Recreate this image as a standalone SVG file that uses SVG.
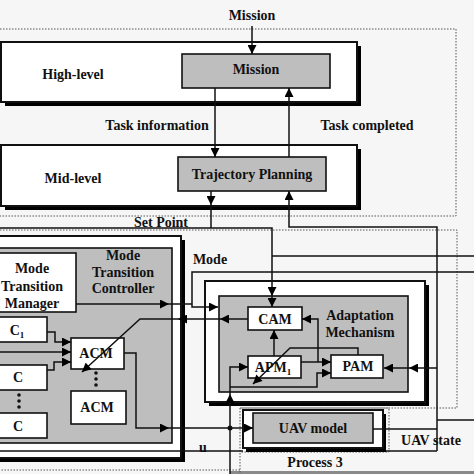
<svg xmlns="http://www.w3.org/2000/svg" width="474" height="474" viewBox="0 0 474 474">
<style>
text{font-family:"Liberation Serif","Times New Roman",serif;font-weight:bold;font-size:14px;fill:#111}
.c{text-anchor:middle}
.w{fill:#fff;stroke:#111;stroke-width:2}
.g{fill:#bebebe;stroke:#111;stroke-width:1.6}
.b{fill:#fff;stroke:#111;stroke-width:1.6}
.sh{fill:#000}
.dot{fill:none;stroke:#555;stroke-width:1;stroke-dasharray:1.5 1.5}
.ln{fill:none;stroke:#111;stroke-width:1.5}
.a{marker-end:url(#ah)}
</style>
<defs>
<marker id="ah" viewBox="0 0 10 10" refX="10" refY="5" markerWidth="10" markerHeight="9" markerUnits="userSpaceOnUse" orient="auto"><path d="M0,0 L10,5 L0,10 z" fill="#000"/></marker>
</defs>
<rect x="0" y="0" width="474" height="474" fill="#f6f6f6"/>
<rect x="230" y="471" width="244" height="3" fill="#8a8a8a"/>

<g id="dotted">
<path class="dot" d="M0,29 H456 V216 H0"/>
<path class="dot" d="M0,230 H457 V408 H240 V474"/>
<path class="dot" d="M240,470 H0"/>
<path class="dot" d="M240,408 H389 V452 H240"/>
</g>

<g id="high-level">
<rect class="sh" x="5" y="46" width="356" height="60"/>
<rect class="w" x="1" y="42" width="356" height="60"/>
<text x="73" y="79" class="c">High-level</text>
</g>
<g id="mission">
<rect class="g" x="182" y="54" width="148" height="34"/>
<text x="256" y="74" class="c">Mission</text>
</g>
<g id="mid-level">
<rect class="sh" x="5" y="149" width="356" height="61"/>
<rect class="w" x="1" y="145" width="356" height="61"/>
<text x="73" y="183" class="c">Mid-level</text>
</g>
<g id="trajectory-planning">
<rect class="g" x="178" y="157" width="148" height="34"/>
<text x="252" y="179" class="c">Trajectory Planning</text>
</g>

<g id="mode-transition-controller">
<rect class="sh" x="-1" y="240" width="186" height="222"/>
<rect class="w" x="-5" y="236" width="186" height="222"/>
<rect class="g" x="-5" y="248" width="177" height="195"/>
<text x="123" y="260" class="c" font-size="14.5">Mode</text>
<text x="123" y="277" class="c" font-size="14.5">Transition</text>
<text x="123" y="293" class="c" font-size="14.5">Controller</text>
</g>
<g id="mode-transition-manager">
<rect class="b" x="-5" y="253" width="81" height="59"/>
<text x="32" y="273" class="c" font-size="14.5">Mode</text>
<text x="32" y="291" class="c" font-size="14.5">Transition</text>
<text x="32" y="308" class="c" font-size="14.5">Manager</text>
</g>
<g id="c1">
<rect class="b" x="-5" y="317" width="52" height="25"/>
<text x="17" y="335" class="c">C<tspan font-size="9" dy="3">1</tspan></text>
</g>
<g id="c2">
<rect class="b" x="-5" y="365" width="52" height="25"/>
<text x="18" y="382" class="c">C</text>
</g>
<g id="c3">
<rect class="b" x="-5" y="413" width="52" height="25"/>
<text x="18" y="431" class="c">C</text>
</g>
<g id="c-dots" fill="#111">
<circle cx="19" cy="395" r="1.8"/><circle cx="19" cy="401" r="1.8"/><circle cx="19" cy="407" r="1.8"/>
</g>
<g id="acm1">
<rect class="b" x="71" y="338" width="53" height="31"/>
<text x="96" y="358" class="c">ACM</text>
</g>
<g id="acm2">
<rect class="b" x="71" y="391" width="55" height="33"/>
<text x="97" y="412" class="c">ACM</text>
</g>
<g id="acm-dots" fill="#111">
<circle cx="96" cy="373" r="1.8"/><circle cx="96" cy="379" r="1.8"/><circle cx="96" cy="385" r="1.8"/>
</g>

<g id="adaptation-mechanism">
<rect class="sh" x="209" y="285" width="220" height="121"/>
<rect class="w" x="205" y="281" width="220" height="121"/>
<rect class="g" x="219" y="296" width="189" height="96"/>
<text x="360" y="320" class="c" font-size="14.5">Adaptation</text>
<text x="360" y="337" class="c" font-size="14.5">Mechanism</text>
</g>
<g id="cam">
<rect class="b" x="248" y="307" width="54" height="23"/>
<text x="275" y="324" class="c">CAM</text>
</g>
<g id="apm1">
<rect class="b" x="248" y="356" width="53" height="22"/>
<text x="273" y="372" class="c">APM<tspan font-size="9" dy="3">1</tspan></text>
</g>
<g id="pam">
<rect class="b" x="331" y="355" width="52" height="23"/>
<text x="358" y="371" class="c">PAM</text>
</g>

<g id="uav-model">
<rect class="sh" x="246" y="414" width="140" height="38"/>
<rect class="w" x="243" y="410" width="140" height="38"/>
<rect class="g" x="253" y="413" width="120" height="30"/>
<text x="313" y="433" class="c">UAV model</text>
</g>

<g id="connectors">
<path class="ln a" d="M252,26 V54"/>
<path class="ln a" d="M215,88 V157"/>
<path class="ln a" d="M289,157 V88"/>
<path class="ln a" d="M211,191 V205"/>
<path class="ln" d="M211,205 V228"/>
<path class="ln a" d="M0,228 H272 V296"/>
<path class="ln a" d="M272,296 V307"/>
<path class="ln" d="M474,256 H272"/>
<path class="ln a" d="M437,451 V227 H289 V191"/>
<path class="ln a" d="M437,368 H409"/>
<path class="ln a" d="M409,368 H384"/>
<path class="ln" d="M373,429 H437"/>
<path class="ln" d="M437,420 H474"/>
<path class="ln" d="M0,451 H243"/>
<path class="ln" d="M386,451 H437"/>
<path class="ln a" d="M474,272 H192 V307 H218"/>
<path class="ln a" d="M76,304 H169"/>
<path class="ln" d="M169,304 H192"/>
<path class="ln a" d="M248,319 H220"/>
<path class="ln a" d="M220,319 H178"/>
<path class="ln a" d="M178,319 H140 L82,372"/>
<path class="ln a" d="M274,356 V330"/>
<path class="ln a" d="M301,362 H331"/>
<path class="ln a" d="M318,362 V319 H302"/>
<path class="ln a" d="M230,474 V394"/>
<path class="ln a" d="M230,394 V367 H248"/>
<path class="ln a" d="M230,387 H317 V373 H331"/>
<path class="ln a" d="M358,355 V348 H290 L253,384"/>
<path class="ln a" d="M124,353 H136 V428 H169"/>
<path class="ln a" d="M169,428 H253"/>
<circle cx="230" cy="428" r="2.5" fill="#111"/>
<path class="ln a" d="M47,332 H55 V342 H71"/>
<path class="ln a" d="M0,352 H71"/>
<path class="ln a" d="M47,370 H54 V362 H71"/>
</g>

<g id="labels">
<text x="252" y="20" class="c">Mission</text>
<text x="157" y="130" class="c">Task information</text>
<text x="367" y="130" class="c">Task completed</text>
<text x="161" y="227" class="c">Set Point</text>
<text x="210" y="264" class="c">Mode</text>
<text x="203" y="452" class="c" font-size="18">u</text>
<text x="431" y="445" class="c">UAV state</text>
<text x="315" y="467" class="c">Process 3</text>
</g>
</svg>
